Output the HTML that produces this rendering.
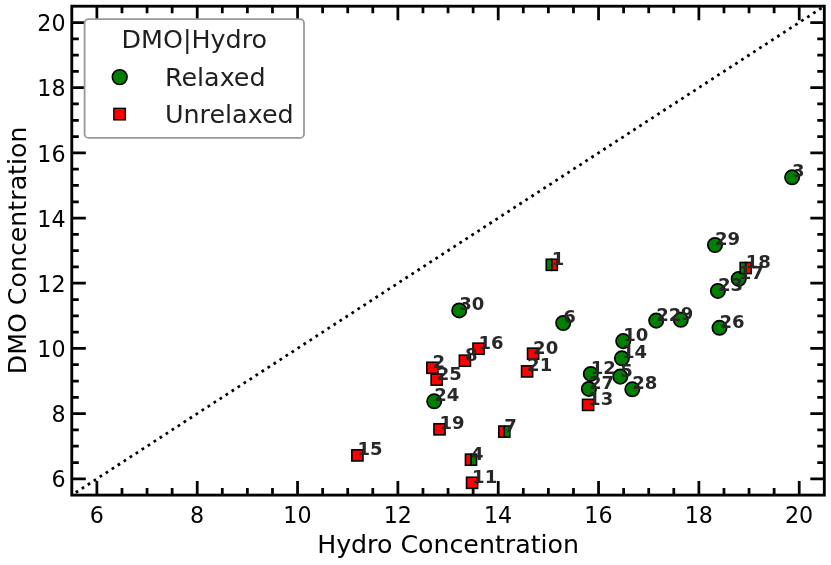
<!DOCTYPE html>
<html lang="en">
<head>
<meta charset="utf-8">
<title>DMO vs Hydro Concentration</title>
<style>
html,body{margin:0;padding:0;background:#fff;}
body{width:831px;height:565px;overflow:hidden;}
svg{display:block;}
text{font-family:"DejaVu Sans","Liberation Sans",sans-serif;}
.tk{font-size:22.2px;fill:#000;}
.al{font-size:25.25px;fill:#000;}
.lg{font-size:25.4px;fill:#1f1f1f;}
.pl{font-size:18.06px;font-weight:bold;fill:#282828;}
</style>
</head>
<body>
<svg width="831" height="565" viewBox="0 0 831 565">
<rect x="0" y="0" width="831" height="565" fill="#ffffff"/>
<defs><clipPath id="ax"><rect x="71.80" y="6.20" width="752.50" height="488.90"/></clipPath></defs>
<g clip-path="url(#ax)"><line x1="71.80" y1="495.10" x2="824.30" y2="6.20" stroke="#000" stroke-width="2.75" stroke-dasharray="2.75 4.4" stroke-dashoffset="2.42"/></g>
<path d="M96.88 495.10v-14.00M96.88 6.20v14.00M71.80 478.80h14.00M824.30 478.80h-14.00M121.97 495.10v-7.00M121.97 6.20v7.00M71.80 462.51h7.00M824.30 462.51h-7.00M147.05 495.10v-7.00M147.05 6.20v7.00M71.80 446.21h7.00M824.30 446.21h-7.00M172.13 495.10v-7.00M172.13 6.20v7.00M71.80 429.91h7.00M824.30 429.91h-7.00M197.22 495.10v-14.00M197.22 6.20v14.00M71.80 413.62h14.00M824.30 413.62h-14.00M222.30 495.10v-7.00M222.30 6.20v7.00M71.80 397.32h7.00M824.30 397.32h-7.00M247.38 495.10v-7.00M247.38 6.20v7.00M71.80 381.02h7.00M824.30 381.02h-7.00M272.47 495.10v-7.00M272.47 6.20v7.00M71.80 364.73h7.00M824.30 364.73h-7.00M297.55 495.10v-14.00M297.55 6.20v14.00M71.80 348.43h14.00M824.30 348.43h-14.00M322.63 495.10v-7.00M322.63 6.20v7.00M71.80 332.13h7.00M824.30 332.13h-7.00M347.72 495.10v-7.00M347.72 6.20v7.00M71.80 315.84h7.00M824.30 315.84h-7.00M372.80 495.10v-7.00M372.80 6.20v7.00M71.80 299.54h7.00M824.30 299.54h-7.00M397.88 495.10v-14.00M397.88 6.20v14.00M71.80 283.24h14.00M824.30 283.24h-14.00M422.97 495.10v-7.00M422.97 6.20v7.00M71.80 266.95h7.00M824.30 266.95h-7.00M448.05 495.10v-7.00M448.05 6.20v7.00M71.80 250.65h7.00M824.30 250.65h-7.00M473.13 495.10v-7.00M473.13 6.20v7.00M71.80 234.35h7.00M824.30 234.35h-7.00M498.22 495.10v-14.00M498.22 6.20v14.00M71.80 218.06h14.00M824.30 218.06h-14.00M523.30 495.10v-7.00M523.30 6.20v7.00M71.80 201.76h7.00M824.30 201.76h-7.00M548.38 495.10v-7.00M548.38 6.20v7.00M71.80 185.46h7.00M824.30 185.46h-7.00M573.47 495.10v-7.00M573.47 6.20v7.00M71.80 169.17h7.00M824.30 169.17h-7.00M598.55 495.10v-14.00M598.55 6.20v14.00M71.80 152.87h14.00M824.30 152.87h-14.00M623.63 495.10v-7.00M623.63 6.20v7.00M71.80 136.57h7.00M824.30 136.57h-7.00M648.72 495.10v-7.00M648.72 6.20v7.00M71.80 120.28h7.00M824.30 120.28h-7.00M673.80 495.10v-7.00M673.80 6.20v7.00M71.80 103.98h7.00M824.30 103.98h-7.00M698.88 495.10v-14.00M698.88 6.20v14.00M71.80 87.68h14.00M824.30 87.68h-14.00M723.97 495.10v-7.00M723.97 6.20v7.00M71.80 71.39h7.00M824.30 71.39h-7.00M749.05 495.10v-7.00M749.05 6.20v7.00M71.80 55.09h7.00M824.30 55.09h-7.00M774.13 495.10v-7.00M774.13 6.20v7.00M71.80 38.79h7.00M824.30 38.79h-7.00M799.22 495.10v-14.00M799.22 6.20v14.00M71.80 22.50h14.00M824.30 22.50h-14.00" stroke="#000" stroke-width="2.75" fill="none"/>
<g stroke="#000">
<rect x="546.25" y="259.25" width="5.55" height="11.1" fill="#008000" stroke-width="1.6"/>
<rect x="551.80" y="259.25" width="5.55" height="11.1" fill="#ff0000" stroke-width="1.6"/>
<rect x="426.85" y="362.25" width="11.1" height="11.1" fill="#ff0000" stroke-width="1.6"/>
<circle cx="792.1" cy="177.3" r="7.15" fill="#008000" stroke-width="1.75"/>
<rect x="465.45" y="454.15" width="5.55" height="11.1" fill="#ff0000" stroke-width="1.6"/>
<rect x="471.00" y="454.15" width="5.55" height="11.1" fill="#008000" stroke-width="1.6"/>
<circle cx="620.3" cy="376.6" r="7.15" fill="#008000" stroke-width="1.75"/>
<circle cx="563.2" cy="323.0" r="7.15" fill="#008000" stroke-width="1.75"/>
<rect x="498.75" y="426.05" width="5.55" height="11.1" fill="#ff0000" stroke-width="1.6"/>
<rect x="504.30" y="426.05" width="5.55" height="11.1" fill="#008000" stroke-width="1.6"/>
<rect x="459.35" y="355.15" width="11.1" height="11.1" fill="#ff0000" stroke-width="1.6"/>
<circle cx="680.8" cy="319.8" r="7.15" fill="#008000" stroke-width="1.75"/>
<circle cx="623.2" cy="341.1" r="7.15" fill="#008000" stroke-width="1.75"/>
<rect x="466.55" y="477.25" width="11.1" height="11.1" fill="#ff0000" stroke-width="1.6"/>
<circle cx="590.8" cy="373.9" r="7.15" fill="#008000" stroke-width="1.75"/>
<rect x="582.55" y="399.35" width="11.1" height="11.1" fill="#ff0000" stroke-width="1.6"/>
<circle cx="621.9" cy="358.3" r="7.15" fill="#008000" stroke-width="1.75"/>
<rect x="351.85" y="449.85" width="11.1" height="11.1" fill="#ff0000" stroke-width="1.6"/>
<rect x="472.95" y="343.15" width="11.1" height="11.1" fill="#ff0000" stroke-width="1.6"/>
<circle cx="738.7" cy="278.9" r="7.15" fill="#008000" stroke-width="1.75"/>
<rect x="740.15" y="262.45" width="5.55" height="11.1" fill="#008000" stroke-width="1.6"/>
<rect x="745.70" y="262.45" width="5.55" height="11.1" fill="#ff0000" stroke-width="1.6"/>
<rect x="433.95" y="423.75" width="11.1" height="11.1" fill="#ff0000" stroke-width="1.6"/>
<rect x="527.55" y="348.15" width="11.1" height="11.1" fill="#ff0000" stroke-width="1.6"/>
<rect x="521.55" y="365.85" width="11.1" height="11.1" fill="#ff0000" stroke-width="1.6"/>
<circle cx="656.2" cy="320.6" r="7.15" fill="#008000" stroke-width="1.75"/>
<circle cx="717.9" cy="290.9" r="7.15" fill="#008000" stroke-width="1.75"/>
<circle cx="434.2" cy="401.3" r="7.15" fill="#008000" stroke-width="1.75"/>
<rect x="431.15" y="374.05" width="11.1" height="11.1" fill="#ff0000" stroke-width="1.6"/>
<circle cx="719.5" cy="327.8" r="7.15" fill="#008000" stroke-width="1.75"/>
<circle cx="588.9" cy="388.9" r="7.15" fill="#008000" stroke-width="1.75"/>
<circle cx="632.3" cy="389.3" r="7.15" fill="#008000" stroke-width="1.75"/>
<circle cx="715.0" cy="245.0" r="7.15" fill="#008000" stroke-width="1.75"/>
<circle cx="459.2" cy="310.4" r="7.15" fill="#008000" stroke-width="1.75"/>
</g>
<g class="pl">
<text x="551.8" y="264.8">1</text>
<text x="432.4" y="367.8">2</text>
<text x="792.1" y="177.3">3</text>
<text x="471.0" y="459.7">4</text>
<text x="620.3" y="376.6">5</text>
<text x="563.2" y="323.0">6</text>
<text x="504.3" y="431.6">7</text>
<text x="464.9" y="360.7">8</text>
<text x="680.8" y="319.8">9</text>
<text x="623.2" y="341.1">10</text>
<text x="472.1" y="482.8">11</text>
<text x="590.8" y="373.9">12</text>
<text x="588.1" y="404.9">13</text>
<text x="621.9" y="358.3">14</text>
<text x="357.4" y="455.4">15</text>
<text x="478.5" y="348.7">16</text>
<text x="738.7" y="278.9">17</text>
<text x="745.7" y="268.0">18</text>
<text x="439.5" y="429.3">19</text>
<text x="533.1" y="353.7">20</text>
<text x="527.1" y="371.4">21</text>
<text x="656.2" y="320.6">22</text>
<text x="717.9" y="290.9">23</text>
<text x="434.2" y="401.3">24</text>
<text x="436.7" y="379.6">25</text>
<text x="719.5" y="327.8">26</text>
<text x="588.9" y="388.9">27</text>
<text x="632.3" y="389.3">28</text>
<text x="715.0" y="245.0">29</text>
<text x="459.2" y="310.4">30</text>
</g>
<rect x="71.80" y="6.20" width="752.50" height="488.90" fill="none" stroke="#000" stroke-width="2.85"/>
<g class="tk" text-anchor="middle">
<text x="96.8" y="522.6">6</text>
<text x="197.1" y="522.6">8</text>
<text x="297.4" y="522.6">10</text>
<text x="397.8" y="522.6">12</text>
<text x="498.1" y="522.6">14</text>
<text x="598.4" y="522.6">16</text>
<text x="698.8" y="522.6">18</text>
<text x="799.1" y="522.6">20</text>
</g>
<g class="tk" text-anchor="end">
<text x="65.6" y="487.4">6</text>
<text x="65.6" y="422.2">8</text>
<text x="65.6" y="357.0">10</text>
<text x="65.6" y="291.8">12</text>
<text x="65.6" y="226.7">14</text>
<text x="65.6" y="161.5">16</text>
<text x="65.6" y="96.3">18</text>
<text x="65.6" y="31.1">20</text>
</g>
<text class="al" text-anchor="middle" x="448.1" y="553.4">Hydro Concentration</text>
<text class="al" text-anchor="middle" transform="translate(25.7 250.4) rotate(-90)">DMO Concentration</text>
<rect x="84.6" y="19.2" width="219.4" height="118.7" rx="4" ry="4" fill="#fff" stroke="#999" stroke-width="1.8"/>
<text class="lg" text-anchor="middle" x="194.3" y="48.4">DMO|Hydro</text>
<circle cx="119.7" cy="77.1" r="7.4" fill="#008000" stroke="#000" stroke-width="1.6"/>
<rect x="113.85" y="108.35" width="11.5" height="11.5" fill="#ff0000" stroke="#000" stroke-width="1.4"/>
<text class="lg" x="164.9" y="85.7">Relaxed</text>
<text class="lg" x="164.9" y="123.3">Unrelaxed</text>
</svg>
</body>
</html>
